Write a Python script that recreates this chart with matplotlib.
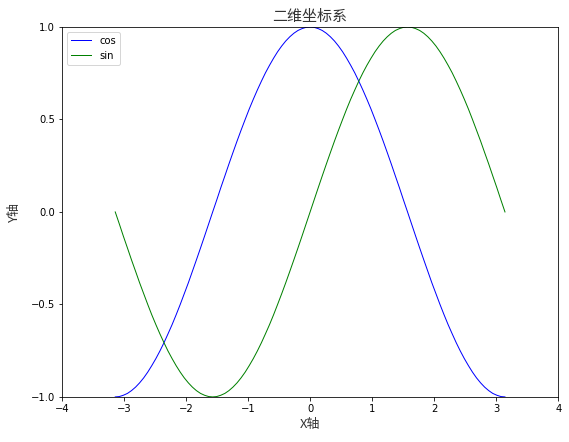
import numpy as np
import matplotlib
matplotlib.use("Agg")
import matplotlib.pyplot as plt

# values
x_vals = [-3.142, -3.076, -3.011, -2.945, -2.880, -2.814, -2.749, -2.683, -2.618, -2.553,
          -2.487, -2.422, -2.356, -2.291, -2.225, -2.160, -2.094, -2.029, -1.963, -1.898,
          -1.833, -1.767, -1.702, -1.636, -1.571, -1.505, -1.440, -1.374, -1.309, -1.244,
          -1.178, -1.113, -1.047, -0.982, -0.916, -0.851, -0.785, -0.720, -0.654, -0.589,
          -0.524, -0.458, -0.393, -0.327, -0.262, -0.196, -0.131, -0.065, 0.000,
          0.065, 0.131, 0.196, 0.262, 0.327, 0.393, 0.458, 0.524, 0.589, 0.654,
          0.720, 0.785, 0.851, 0.916, 0.982, 1.047, 1.113, 1.178, 1.244, 1.309,
          1.374, 1.440, 1.505, 1.571, 1.636, 1.702, 1.767, 1.833, 1.898, 1.963,
          2.029, 2.094, 2.160, 2.225, 2.291, 2.356, 2.422, 2.487, 2.553, 2.618,
          2.683, 2.749, 2.814, 2.880, 2.945, 3.011, 3.076, 3.142]
cos_vals = [-1.000, -0.998, -0.991, -0.981, -0.966, -0.947, -0.924, -0.897, -0.866, -0.831,
            -0.793, -0.752, -0.707, -0.659, -0.609, -0.556, -0.500, -0.442, -0.383, -0.321,
            -0.259, -0.195, -0.131, -0.065, 0.000, 0.065, 0.131, 0.195, 0.259, 0.321,
            0.383, 0.442, 0.500, 0.556, 0.609, 0.659, 0.707, 0.752, 0.793, 0.831,
            0.866, 0.897, 0.924, 0.947, 0.966, 0.981, 0.991, 0.998, 1.000,
            0.998, 0.991, 0.981, 0.966, 0.947, 0.924, 0.897, 0.866, 0.831, 0.793,
            0.752, 0.707, 0.659, 0.609, 0.556, 0.500, 0.442, 0.383, 0.321, 0.259,
            0.195, 0.131, 0.065, 0.000, -0.065, -0.131, -0.195, -0.259, -0.321, -0.383,
            -0.442, -0.500, -0.556, -0.609, -0.659, -0.707, -0.752, -0.793, -0.831, -0.866,
            -0.897, -0.924, -0.947, -0.966, -0.981, -0.991, -0.998, -1.000]
sin_vals = [0.000, -0.065, -0.131, -0.195, -0.259, -0.321, -0.383, -0.442, -0.500, -0.556,
            -0.609, -0.659, -0.707, -0.752, -0.793, -0.831, -0.866, -0.897, -0.924, -0.947,
            -0.966, -0.981, -0.991, -0.998, -1.000, -0.998, -0.991, -0.981, -0.966, -0.947,
            -0.924, -0.897, -0.866, -0.831, -0.793, -0.752, -0.707, -0.659, -0.609, -0.556,
            -0.500, -0.442, -0.383, -0.321, -0.259, -0.195, -0.131, -0.065, 0.000,
            0.065, 0.131, 0.195, 0.259, 0.321, 0.383, 0.442, 0.500, 0.556, 0.609,
            0.659, 0.707, 0.752, 0.793, 0.831, 0.866, 0.897, 0.924, 0.947, 0.966,
            0.981, 0.991, 0.998, 1.000, 0.998, 0.991, 0.981, 0.966, 0.947, 0.924,
            0.897, 0.866, 0.831, 0.793, 0.752, 0.707, 0.659, 0.609, 0.556, 0.500,
            0.442, 0.383, 0.321, 0.259, 0.195, 0.131, 0.065, 0.000]
x_ticks = [-4, -3, -2, -1, 0, 1, 2, 3, 4]
y_ticks = [-1.0, -0.5, 0.0, 0.5, 1.0]

cjk = ['Noto Sans CJK SC', 'DejaVu Sans']

# reference looks like it was rendered at 72 dpi
fig = plt.figure(figsize=(569 / 72, 442 / 72), dpi=72)
ax = fig.add_axes([0.109, 0.102, 0.872, 0.837])

ax.plot(x_vals, cos_vals, color="blue", linewidth=1, label="cos")
ax.plot(x_vals, sin_vals, color="green", linewidth=1, label="sin")

ax.set_xlim(-4, 4)
ax.set_ylim(-1, 1)
ax.set_xticks(x_ticks)
ax.set_yticks(y_ticks)

ax.set_title("二维坐标系", family=cjk, fontsize=15, color="#333333")
ax.set_xlabel("X轴", family=cjk, fontsize=13, color="#333333")
ax.set_ylabel("Y轴", family=cjk, fontsize=13, color="#333333")
ax.xaxis.set_label_coords(0.5, -0.057)
ax.yaxis.set_label_coords(-0.083, 0.5)
ax.legend(loc="upper left")

fig.savefig("out.png", dpi=72)
